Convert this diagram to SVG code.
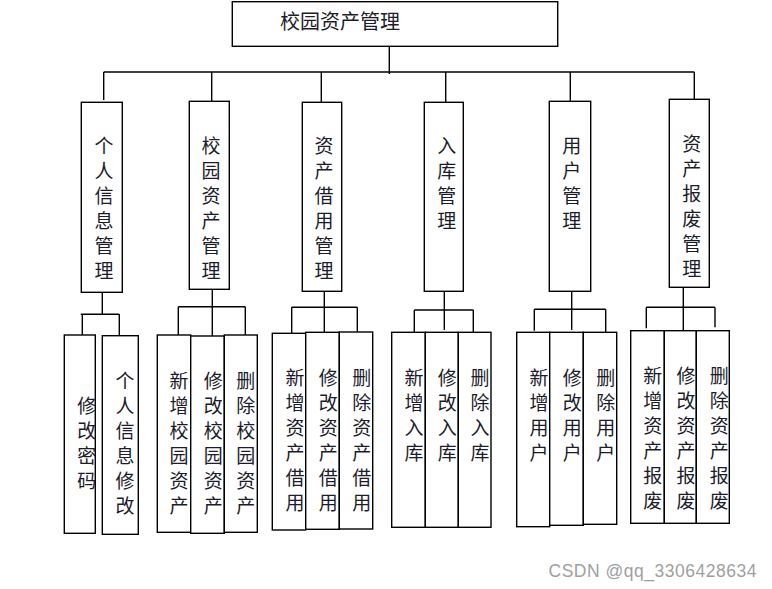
<svg xmlns="http://www.w3.org/2000/svg" width="772" height="589" viewBox="0 0 772 589">
<style>
.b{fill:#fff;stroke:#000;stroke-width:1.4}
.t{font-family:"Noto Sans CJK SC","Noto Sans CJK JP",sans-serif;font-size:19px;fill:#1c1c2c;text-anchor:middle}
.c{fill:none;stroke:#000;stroke-width:1.4}
</style>
<rect width="772" height="589" fill="#fff"/>
<g id="connectors" class="c">
<path d="M389.3 46.3V74M103.7 72H694.3M103.7 72V100M211.7 72V101.3M321.3 72V102.3M445.7 72V102.3M570.3 72V101.3M694.3 72V99.3"/>
<path d="M102.3 292.3V314.3M80.7 314.3H119.3M82.3 314.3V335M119.3 314.3V335.7"/>
<path d="M212.3 289.3V306.7M178.3 306.7H245.3M178.3 306.7V335M212.3 306.7V336M245.3 306.7V335"/>
<path d="M324.3 291.3V307.3M291.7 307.3H357.3M291.7 307.3V333.3M324.3 307.3V332.3M357.3 307.3V332"/>
<path d="M444.3 291.3V330M414.3 310H473.3M414.3 310V332.3M473.3 310V332.3"/>
<path d="M571.7 291.3V330M534.3 309.3H605.7M534.3 309.3V330.7M605.7 309.3V332.3"/>
<path d="M683.3 287.3V330M646.3 307.3H715M646.3 307.3V328.3M715 307.3V327.3"/>
</g>
<g id="root">
<rect class="b" x="232.3" y="1.7" width="325.4" height="44.6"/>
<text x="280" y="28.5" style="font-family:'Noto Sans CJK SC',sans-serif;font-size:20px;fill:#1c1c2c">校园资产管理</text>
</g>
<g id="n1"><rect class="b" x="81.3" y="102.3" width="41" height="190"/>
<text class="t"><tspan x="104" y="153">个</tspan><tspan x="104" dy="25">人</tspan><tspan x="104" dy="25">信</tspan><tspan x="104" dy="25">息</tspan><tspan x="104" dy="25">管</tspan><tspan x="104" dy="25">理</tspan></text></g>
<g id="n2"><rect class="b" x="189.3" y="101.3" width="40" height="188"/>
<text class="t"><tspan x="211" y="153">校</tspan><tspan x="211" dy="25">园</tspan><tspan x="211" dy="25">资</tspan><tspan x="211" dy="25">产</tspan><tspan x="211" dy="25">管</tspan><tspan x="211" dy="25">理</tspan></text></g>
<g id="n3"><rect class="b" x="302.3" y="102.3" width="39.4" height="189"/>
<text class="t"><tspan x="324" y="153">资</tspan><tspan x="324" dy="25">产</tspan><tspan x="324" dy="25">借</tspan><tspan x="324" dy="25">用</tspan><tspan x="324" dy="25">管</tspan><tspan x="324" dy="25">理</tspan></text></g>
<g id="n4"><rect class="b" x="424.3" y="102.3" width="39" height="189"/>
<text class="t"><tspan x="446.7" y="153">入</tspan><tspan x="446.7" dy="25">库</tspan><tspan x="446.7" dy="25">管</tspan><tspan x="446.7" dy="25">理</tspan></text></g>
<g id="n5"><rect class="b" x="549.3" y="101.3" width="41.4" height="190"/>
<text class="t"><tspan x="571.7" y="153">用</tspan><tspan x="571.7" dy="25">户</tspan><tspan x="571.7" dy="25">管</tspan><tspan x="571.7" dy="25">理</tspan></text></g>
<g id="n6"><rect class="b" x="669.3" y="99.3" width="40" height="188"/>
<text class="t"><tspan x="691.7" y="151">资</tspan><tspan x="691.7" dy="25">产</tspan><tspan x="691.7" dy="25">报</tspan><tspan x="691.7" dy="25">废</tspan><tspan x="691.7" dy="25">管</tspan><tspan x="691.7" dy="25">理</tspan></text></g>
<g id="c11"><rect class="b" x="64.3" y="335" width="31" height="198.3"/>
<text class="t"><tspan x="86.7" y="413">修</tspan><tspan x="86.7" dy="25">改</tspan><tspan x="86.7" dy="25">密</tspan><tspan x="86.7" dy="25">码</tspan></text></g>
<g id="c12"><rect class="b" x="102.3" y="335.7" width="36" height="198.6"/>
<text class="t"><tspan x="125" y="388">个</tspan><tspan x="125" dy="25">人</tspan><tspan x="125" dy="25">信</tspan><tspan x="125" dy="25">息</tspan><tspan x="125" dy="25">修</tspan><tspan x="125" dy="25">改</tspan></text></g>
<g id="c21"><rect class="b" x="157.3" y="335" width="33.4" height="197.3"/>
<text class="t"><tspan x="179" y="388">新</tspan><tspan x="179" dy="25">增</tspan><tspan x="179" dy="25">校</tspan><tspan x="179" dy="25">园</tspan><tspan x="179" dy="25">资</tspan><tspan x="179" dy="25">产</tspan></text></g>
<g id="c22"><rect class="b" x="190.7" y="336" width="33.6" height="197.3"/>
<text class="t"><tspan x="213.3" y="388">修</tspan><tspan x="213.3" dy="25">改</tspan><tspan x="213.3" dy="25">校</tspan><tspan x="213.3" dy="25">园</tspan><tspan x="213.3" dy="25">资</tspan><tspan x="213.3" dy="25">产</tspan></text></g>
<g id="c23"><rect class="b" x="224.3" y="335" width="33" height="197.3"/>
<text class="t"><tspan x="245.7" y="388">删</tspan><tspan x="245.7" dy="25">除</tspan><tspan x="245.7" dy="25">校</tspan><tspan x="245.7" dy="25">园</tspan><tspan x="245.7" dy="25">资</tspan><tspan x="245.7" dy="25">产</tspan></text></g>
<g id="c31"><rect class="b" x="272.3" y="333.3" width="33.4" height="196.7"/>
<text class="t"><tspan x="295" y="384.5">新</tspan><tspan x="295" dy="25">增</tspan><tspan x="295" dy="25">资</tspan><tspan x="295" dy="25">产</tspan><tspan x="295" dy="25">借</tspan><tspan x="295" dy="25">用</tspan></text></g>
<g id="c32"><rect class="b" x="305.7" y="332.3" width="33.6" height="197"/>
<text class="t"><tspan x="328.3" y="384.5">修</tspan><tspan x="328.3" dy="25">改</tspan><tspan x="328.3" dy="25">资</tspan><tspan x="328.3" dy="25">产</tspan><tspan x="328.3" dy="25">借</tspan><tspan x="328.3" dy="25">用</tspan></text></g>
<g id="c33"><rect class="b" x="339.3" y="332" width="33.4" height="197"/>
<text class="t"><tspan x="361.7" y="384.5">删</tspan><tspan x="361.7" dy="25">除</tspan><tspan x="361.7" dy="25">资</tspan><tspan x="361.7" dy="25">产</tspan><tspan x="361.7" dy="25">借</tspan><tspan x="361.7" dy="25">用</tspan></text></g>
<g id="c41"><rect class="b" x="391.7" y="332.3" width="33.6" height="195"/>
<text class="t"><tspan x="414" y="384.5">新</tspan><tspan x="414" dy="25">增</tspan><tspan x="414" dy="25">入</tspan><tspan x="414" dy="25">库</tspan></text></g>
<g id="c42"><rect class="b" x="425.3" y="332.3" width="33" height="195"/>
<text class="t"><tspan x="447.3" y="384.5">修</tspan><tspan x="447.3" dy="25">改</tspan><tspan x="447.3" dy="25">入</tspan><tspan x="447.3" dy="25">库</tspan></text></g>
<g id="c43"><rect class="b" x="458.3" y="332.3" width="32.7" height="195"/>
<text class="t"><tspan x="480" y="384.5">删</tspan><tspan x="480" dy="25">除</tspan><tspan x="480" dy="25">入</tspan><tspan x="480" dy="25">库</tspan></text></g>
<g id="c51"><rect class="b" x="516.7" y="332.3" width="33" height="194.4"/>
<text class="t"><tspan x="539" y="384.5">新</tspan><tspan x="539" dy="25">增</tspan><tspan x="539" dy="25">用</tspan><tspan x="539" dy="25">户</tspan></text></g>
<g id="c52"><rect class="b" x="549.7" y="332.3" width="33.6" height="193"/>
<text class="t"><tspan x="572.3" y="384.5">修</tspan><tspan x="572.3" dy="25">改</tspan><tspan x="572.3" dy="25">用</tspan><tspan x="572.3" dy="25">户</tspan></text></g>
<g id="c53"><rect class="b" x="583.3" y="332.3" width="33.4" height="192"/>
<text class="t"><tspan x="605.7" y="384.5">删</tspan><tspan x="605.7" dy="25">除</tspan><tspan x="605.7" dy="25">用</tspan><tspan x="605.7" dy="25">户</tspan></text></g>
<g id="c61"><rect class="b" x="630.7" y="330.7" width="33.6" height="192.6"/>
<text class="t"><tspan x="652.7" y="383">新</tspan><tspan x="652.7" dy="25">增</tspan><tspan x="652.7" dy="25">资</tspan><tspan x="652.7" dy="25">产</tspan><tspan x="652.7" dy="25">报</tspan><tspan x="652.7" dy="25">废</tspan></text></g>
<g id="c62"><rect class="b" x="664.3" y="330.7" width="32" height="192.6"/>
<text class="t"><tspan x="686" y="383">修</tspan><tspan x="686" dy="25">改</tspan><tspan x="686" dy="25">资</tspan><tspan x="686" dy="25">产</tspan><tspan x="686" dy="25">报</tspan><tspan x="686" dy="25">废</tspan></text></g>
<g id="c63"><rect class="b" x="696.3" y="330.7" width="33" height="192.6"/>
<text class="t"><tspan x="719.3" y="383">删</tspan><tspan x="719.3" dy="25">除</tspan><tspan x="719.3" dy="25">资</tspan><tspan x="719.3" dy="25">产</tspan><tspan x="719.3" dy="25">报</tspan><tspan x="719.3" dy="25">废</tspan></text></g>
<text x="548.5" y="576.5" textLength="208" lengthAdjust="spacing" style="font-family:'Liberation Sans',Arial,sans-serif;font-size:17.5px;fill:#a0a0a0">CSDN @qq_3306428634</text>
</svg>
